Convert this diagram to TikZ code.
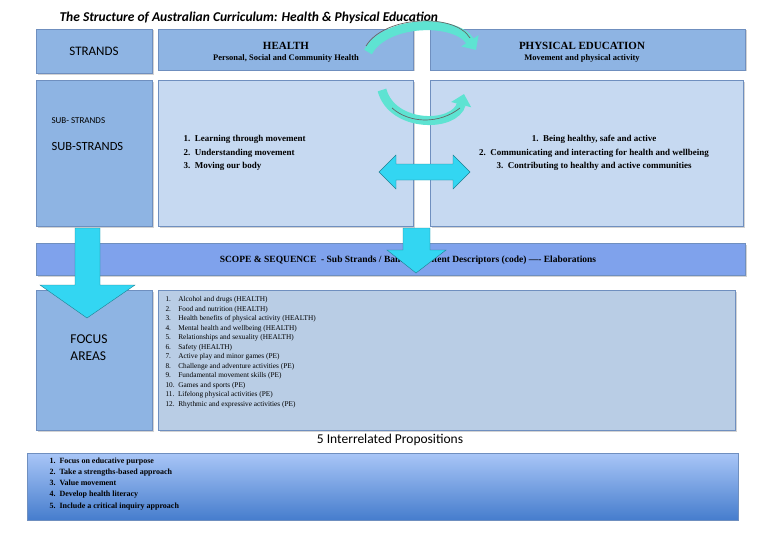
\documentclass[tikz,border=0pt]{standalone}
\usepackage{fontspec}
\setmainfont{Liberation Serif}
\newfontfamily\calfont{Carlito}
\usetikzlibrary{shapes.arrows,arrows.meta,shadows}
\definecolor{hdr}{HTML}{8EB4E3}
\definecolor{sub}{HTML}{C6D9F1}
\definecolor{lst}{HTML}{B9CDE5}
\definecolor{scope}{HTML}{7FA2EC}
\definecolor{cy}{HTML}{33D6F2}
\definecolor{tl}{HTML}{5EE3D2}
\definecolor{edge}{HTML}{6F8FBF}
\definecolor{gtop}{HTML}{A9C6F7}
\definecolor{gbot}{HTML}{467DCD}
\begin{document}
\begin{tikzpicture}[x=1pt,y=-1pt,
  box/.style={draw=edge,line width=0.8pt,drop shadow={shadow xshift=1.5pt,shadow yshift=-1.5pt,opacity=.35}},
  arr/.style={fill=cy,draw=cy!60!black,line width=0.4pt},
  curv/.style={draw=tl,line width=9pt,-{Triangle[length=11pt,width=20pt]}},
  txt/.style={font=\fontsize{9}{13.5}\selectfont\bfseries,align=left}]
\useasboundingbox (0,0) rectangle (768,543);
\node[anchor=west,font=\calfont\bfseries\itshape\fontsize{13.5}{15}\selectfont] (title) at (56,18) {The Structure of Australian Curriculum: Health \& Physical Education};
% top row
\draw[box,fill=hdr] (36,29) rectangle (152,73);
\node[font=\calfont\fontsize{13}{14}\selectfont] (strands) at (94,51) {STRANDS};
\draw[box,fill=hdr] (158,29) rectangle (413,70);
\node[align=center,font=\fontsize{8.5}{11}\selectfont\bfseries] (health) at (286,52) {\fontsize{11}{12}\selectfont HEALTH\\Personal, Social and Community Health};
\draw[box,fill=hdr] (430,29) rectangle (745,70);
\node[align=center,font=\fontsize{8.5}{11}\selectfont\bfseries] (pe) at (582,52) {\fontsize{11}{12}\selectfont PHYSICAL EDUCATION\\Movement and physical activity};
% sub strands
\draw[box,fill=hdr] (36,80) rectangle (152,226);
\node[anchor=west,font=\calfont\fontsize{9}{10}\selectfont] (ss1) at (48,121) {SUB- STRANDS};
\node[anchor=west,font=\calfont\fontsize{12.5}{14}\selectfont] (ss2) at (48,146) {SUB-STRANDS};
\draw[box,fill=sub] (158,80) rectangle (413,226);
\node[txt,anchor=west] (hl) at (180,153) {1.\ \ Learning through movement\\2.\ \ Understanding movement\\3.\ \ Moving our body};
\draw[box,fill=sub] (430,80) rectangle (743,226);
\node[txt,align=center] (pl) at (594,153) {1.\ \ Being healthy, safe and active\\2.\ \ Communicating and interacting for health and wellbeing\\3.\ \ Contributing to healthy and active communities};
% scope
\draw[box,fill=scope] (36,243) rectangle (745,275);
\node[font=\fontsize{9.5}{10}\selectfont\bfseries] (scopet) at (408,260) {SCOPE \& SEQUENCE\ \ - Sub Strands / Bands - Content Descriptors (code) ---- Elaborations};
% focus
\draw[box,fill=hdr] (36,290) rectangle (152,430);
\node[align=left,font=\calfont\fontsize{13.5}{17}\selectfont] (focus) at (89,348) {FOCUS\\AREAS};
\draw[box,fill=lst] (158,290) rectangle (735,430);
\node[anchor=north west,align=left,font=\fontsize{7.3}{9.5}\selectfont] (fl) at (162,293) {%
1.\ \ \ \ Alcohol and drugs (HEALTH)\\2.\ \ \ \ Food and nutrition (HEALTH)\\3.\ \ \ \ Health benefits of physical activity (HEALTH)\\4.\ \ \ \ Mental health and wellbeing (HEALTH)\\5.\ \ \ \ Relationships and sexuality (HEALTH)\\6.\ \ \ \ Safety (HEALTH)\\7.\ \ \ \ Active play and minor games (PE)\\8.\ \ \ \ Challenge and adventure activities (PE)\\9.\ \ \ \ Fundamental movement skills (PE)\\10.\ \ Games and sports (PE)\\11.\ \ Lifelong physical activities (PE)\\12.\ \ Rhythmic and expressive activities (PE)};
\node[font=\calfont\fontsize{13.5}{14}\selectfont] (prop) at (390,440) {5 Interrelated Propositions};
\shade[top color=gtop, bottom color=gbot] (27,453) rectangle (738,520);
\draw[edge,line width=0.8pt] (27,453) rectangle (738,520);
\node[anchor=north west,align=left,font=\fontsize{8}{11.3}\selectfont\bfseries] (bl) at (46,454) {1.\ \ Focus on educative purpose\\2.\ \ Take a strengths-based approach\\3.\ \ Value movement\\4.\ \ Develop health literacy\\5.\ \ Include a critical inquiry approach};
% arrows
\draw[arr] (75,228) -- (100,228) -- (100,285) -- (135,285) -- (87,318) -- (40,285) -- (75,285) -- cycle;
\draw[arr] (403,228) -- (430,228) -- (430,250) -- (446,250) -- (416,273) -- (387,250) -- (403,250) -- cycle;
\draw[arr] (379,172) -- (396,155) -- (396,164) -- (453,164) -- (453,155) -- (470,172) -- (453,189) -- (453,180) -- (396,180) -- (396,189) -- cycle;
% curved arrows
\draw[curv] (368,52) .. controls (385,20) and (455,18) .. (476,50);
\draw[black!60,line width=0.7pt] (366,46) .. controls (385,15) and (455,13) .. (470,38);
\draw[curv] (382,90) .. controls (392,128) and (455,128) .. (464,94);
\draw[black!60,line width=0.7pt] (392,108) .. controls (410,124) and (440,124) .. (460,108);
\end{tikzpicture}
\end{document}
